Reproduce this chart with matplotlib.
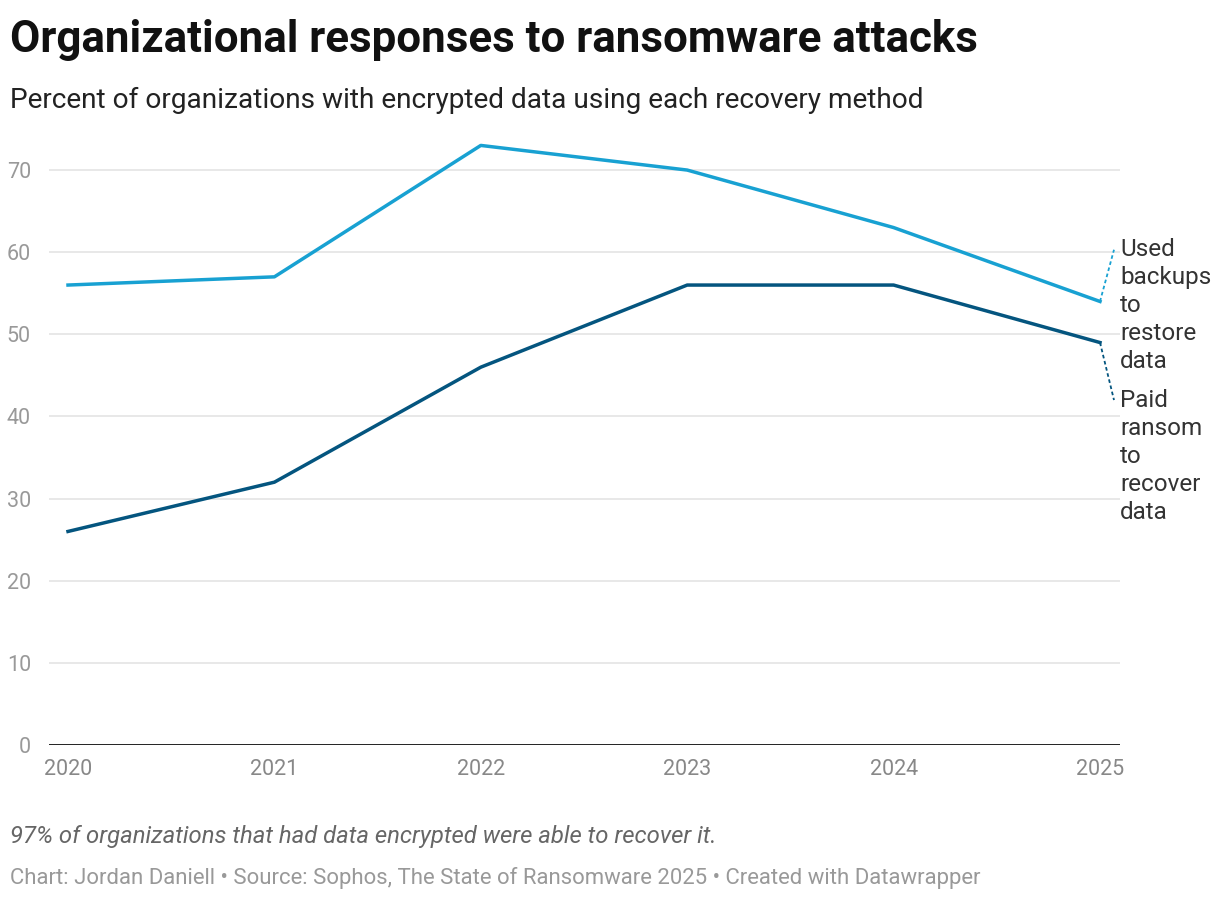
import matplotlib.pyplot as plt

plt.rcParams['font.family'] = ['Roboto', 'DejaVu Sans']

years = [2020, 2021, 2022, 2023, 2024, 2025]
backups = [56, 57, 73, 70, 63, 54]
ransom = [26, 32, 46, 56, 56, 49]
y_ticks = [0, 10, 20, 30, 40, 50, 60, 70]

light = '#18a1d2'
dark = '#04557f'


def main():
    fig = plt.figure(figsize=(12.2, 9), dpi=100)
    ax = fig.add_axes([49 / 1220, 155 / 900, 1071 / 1220, (745 - 129) / 900])

    for y in y_ticks[1:]:
        ax.axhline(y, color='#e1e1e1', lw=1.1, zorder=1)
    ax.axhline(0, color='#222222', lw=1.4, zorder=3)

    ax.plot(years, backups, color=light, lw=2.5, zorder=4)
    ax.plot(years, ransom, color=dark, lw=2.5, zorder=4)

    ax.set_xlim(2020 - 19 / 206.4, 2025 + 20 / 206.4)
    ax.set_ylim(0, 75)
    for s in ax.spines.values():
        s.set_visible(False)
    ax.set_yticks(y_ticks)
    ax.set_xticks(years)
    ax.set_xticklabels([str(y) for y in years])
    ax.tick_params(axis='y', length=0, pad=13, labelsize=15.5,
                   labelcolor='#999999')
    ax.tick_params(axis='x', length=0, pad=10, labelsize=15.5,
                   labelcolor='#888888')

    # end labels with dotted connectors
    lx = 2025 + 14 / 206.4
    ax.plot([years[-1], lx], [backups[-1], 60.3], color=light, lw=1.3,
            ls=(0, (2, 1.5)), clip_on=False)
    ax.plot([years[-1], lx], [ransom[-1], 42.0], color=dark, lw=1.3,
            ls=(0, (2, 1.5)), clip_on=False)
    tx = 2025 + 20 / 206.4
    ax.text(tx, 61.7, 'Used\nbackups\nto\nrestore\ndata', ha='left',
            va='top', fontsize=17.5, color='#333333', linespacing=1.27,
            clip_on=False)
    ax.text(tx, 43.3, 'Paid\nransom\nto\nrecover\ndata', ha='left',
            va='top', fontsize=17.5, color='#333333', linespacing=1.27,
            clip_on=False)

    fig.text(10 / 1220, 1 - 52 / 900,
             'Organizational responses to ransomware attacks',
             fontsize=31.6, fontweight='bold', color='#111111')
    fig.text(10 / 1220, 1 - 108 / 900,
             'Percent of organizations with encrypted data using each recovery method',
             fontsize=20.2, color='#222222')
    fig.text(10 / 1220, 1 - 843 / 900,
             '97% of organizations that had data encrypted were able to recover it.',
             fontsize=17.2, style='italic', color='#666666')
    fig.text(10 / 1220, 1 - 884 / 900,
             'Chart: Jordan Daniell \u2022 Source: Sophos, The State of Ransomware 2025 \u2022 Created with Datawrapper',
             fontsize=15.9, color='#999999')

    fig.savefig('out.png', dpi=100, facecolor='white')


if __name__ == '__main__':
    main()
